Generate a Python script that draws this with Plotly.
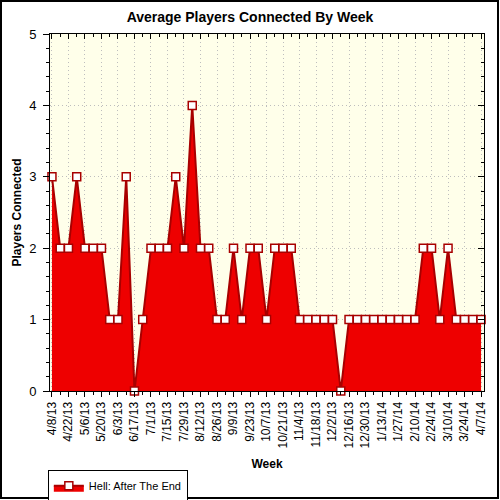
import plotly.graph_objects as go

# weekly averages
weeks = [
    "2013-04-08", "2013-04-15", "2013-04-22", "2013-04-29", "2013-05-06", "2013-05-13",
    "2013-05-20", "2013-05-27", "2013-06-03", "2013-06-10", "2013-06-17", "2013-06-24",
    "2013-07-01", "2013-07-08", "2013-07-15", "2013-07-22", "2013-07-29", "2013-08-05",
    "2013-08-12", "2013-08-19", "2013-08-26", "2013-09-02", "2013-09-09", "2013-09-16",
    "2013-09-23", "2013-09-30", "2013-10-07", "2013-10-14", "2013-10-21", "2013-10-28",
    "2013-11-04", "2013-11-11", "2013-11-18", "2013-11-25", "2013-12-02", "2013-12-09",
    "2013-12-16", "2013-12-23", "2013-12-30", "2014-01-06", "2014-01-13", "2014-01-20",
    "2014-01-27", "2014-02-03", "2014-02-10", "2014-02-17", "2014-02-24", "2014-03-03",
    "2014-03-10", "2014-03-17", "2014-03-24", "2014-03-31", "2014-04-07",
]
players = [
    3, 2, 2, 3, 2, 2, 2, 1, 1, 3, 0, 1, 2, 2, 2, 3, 2, 4, 2, 2, 1, 1, 2, 1, 2, 2,
    1, 2, 2, 2, 1, 1, 1, 1, 1, 0, 1, 1, 1, 1, 1, 1, 1, 1, 1, 2, 2, 1, 2, 1, 1, 1, 1,
]
tick_labels = [
    "4/8/13", "4/22/13", "5/6/13", "5/20/13", "6/3/13", "6/17/13", "7/1/13",
    "7/15/13", "7/29/13", "8/12/13", "8/26/13", "9/9/13", "9/23/13", "10/7/13",
    "10/21/13", "11/4/13", "11/18/13", "12/2/13", "12/16/13", "12/30/13", "1/13/14",
    "1/27/14", "2/10/14", "2/24/14", "3/10/14", "3/24/14", "4/7/14",
]
tick_vals = weeks[::2]
series_name = "Hell: After The End"

FONT = "Liberation Sans, Arial, sans-serif"
x_range = ["2013-04-06 08:00", "2014-04-09 12:00"]
week_ms = 7 * 24 * 3600 * 1000
GRID = dict(showgrid=True, gridcolor="#BEBEBE", griddash="1px,3px", gridwidth=1)

fig = go.Figure()
fig.add_trace(go.Scatter(
    x=weeks, y=players, name=series_name,
    mode="lines+markers", fill="tozeroy",
    fillcolor="#EE0000",
    line=dict(color="#A80000", width=2),
    marker=dict(symbol="square", size=8, color="white",
                line=dict(color="#A80000", width=1.5)),
    cliponaxis=False,
))
# invisible copy so the top/right tick axes get drawn
fig.add_trace(go.Scatter(
    x=weeks, y=players, xaxis="x2", yaxis="y2", mode="lines",
    line=dict(width=0), opacity=0, showlegend=False, hoverinfo="skip",
))

fig.update_layout(
    width=500, height=500,
    margin=dict(l=50, r=16, t=34, b=109, autoexpand=False),
    paper_bgcolor="white",
    plot_bgcolor="#FFFFEA",
    font=dict(family=FONT, size=12, color="black"),
    title=dict(text="<b>Average Players Connected By Week</b>",
               x=0.5, xanchor="center", y=0.966, yanchor="middle",
               font=dict(size=14, family=FONT)),
    showlegend=True,
    legend=dict(orientation="h", x=-0.005, y=-0.222, xanchor="left", yanchor="top",
                bordercolor="black", borderwidth=1, bgcolor="white",
                font=dict(size=11, family=FONT), itemwidth=30,
                tracegroupgap=0),
    xaxis=dict(
        type="date", range=x_range, automargin=False,
        tickmode="array", tickvals=tick_vals, ticktext=tick_labels,
        tickangle=-90, ticks="outside", ticklen=5, tickcolor="black",
        tickfont=dict(size=12),
        showline=True, linecolor="black", linewidth=1,
        minor=dict(dtick=week_ms, tick0=weeks[0], ticks="outside", ticklen=3,
                   tickcolor="black", showgrid=False),
        title=dict(text="<b>Week</b>", font=dict(size=12), standoff=12),
        zeroline=False, **GRID,
    ),
    yaxis=dict(
        range=[0, 5], dtick=1, automargin=False,
        ticks="outside", ticklen=6, tickcolor="black",
        tickfont=dict(size=13), ticklabelstandoff=4,
        showline=True, linecolor="black", linewidth=1,
        minor=dict(dtick=0.2, ticks="outside", ticklen=3, tickcolor="black",
                   showgrid=False),
        title=dict(text="<b>Players Connected</b>", font=dict(size=12), standoff=4),
        zeroline=False, **GRID,
    ),
    xaxis2=dict(
        type="date", range=x_range, overlaying="x", side="top", automargin=False,
        tickmode="array", tickvals=tick_vals, showticklabels=False,
        ticks="inside", ticklen=5, tickcolor="black",
        showline=True, linecolor="black", linewidth=1, showgrid=False,
        minor=dict(dtick=week_ms, tick0=weeks[0], ticks="inside", ticklen=3,
                   tickcolor="black", showgrid=False),
        zeroline=False,
    ),
    yaxis2=dict(
        range=[0, 5], overlaying="y", side="right", dtick=1, automargin=False,
        showticklabels=False, ticks="inside", ticklen=6, tickcolor="black",
        showline=True, linecolor="black", linewidth=1, showgrid=False,
        minor=dict(dtick=0.2, ticks="inside", ticklen=3, tickcolor="black",
                   showgrid=False),
        zeroline=False,
    ),
)

# frame round the whole picture
fig.add_shape(type="rect", xref="paper", yref="paper",
              x0=-49 / 434, x1=448 / 434,
              y0=-107 / 357, y1=1 + 33 / 357,
              line=dict(color="black", width=2), layer="above")

# drop the page's default body margin so the figure sits at 0,0
fig.write_html("out.html",
               config={"displayModeBar": False},
               post_script="document.body.style.margin='0';document.body.style.padding='0';")
